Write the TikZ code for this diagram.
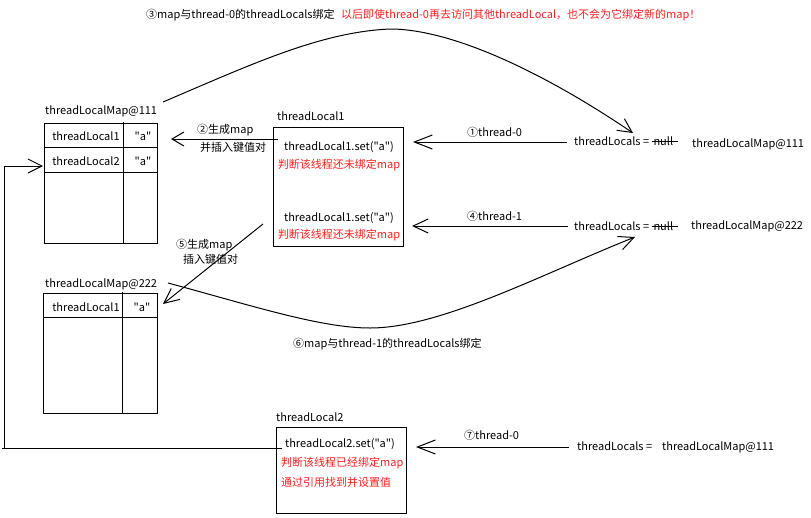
\documentclass[tikz,border=0pt]{standalone}
\usepackage{fontspec}
\setmainfont{Noto Sans CJK SC}[Ligatures=TeXOff]
\usetikzlibrary{arrows.meta}
\definecolor{redtext}{RGB}{255,30,30}
\tikzset{
  lbl/.style={inner sep=0pt, anchor=west, font=\fontsize{11}{13}\selectfont},
  clbl/.style={inner sep=0pt, anchor=center, font=\fontsize{11}{13}\selectfont},
  redtxt/.style={text=redtext},
  ln/.style={line width=1pt, black},
  barbarrow/.style={ln, -{Straight Barb[length=#1, width=14pt]}},
  barbarrow/.default=14pt
}
\begin{document}
\begin{tikzpicture}[x=1pt, y=-1pt]
\useasboundingbox (0,0) rectangle (811,517);

% top texts
\node[lbl] (t3) at (146,15) {③map与thread-0的threadLocals绑定};
\node[lbl, redtxt] (t3r) at (341,15) {以后即使thread-0再去访问其他threadLocal，也不会为它绑定新的map！};

% map 111
\node[lbl] (m1lbl) at (45,111) {threadLocalMap@111};
\draw[ln] (44,123) rectangle (157,243);
\draw[ln] (123,122) -- (123,244);
\draw[ln] (44,147) -- (157,147);
\draw[ln] (44,172) -- (157,172);
\node[clbl] (m1k1) at (86,136) {threadLocal1};
\node[clbl] (m1v1) at (143,136) {"a"};
\node[clbl] (m1k2) at (86,161) {threadLocal2};
\node[clbl] (m1v2) at (143,161) {"a"};
\coordinate (m1in2) at (43,166);
\coordinate (m1in1) at (171,139);
\coordinate (m1top) at (163,102);

% threadLocal1
\node[lbl] (tl1lbl) at (277,116) {threadLocal1};
\draw[ln] (273,127) rectangle (403,246);
\node[clbl] (s1) at (339,147) {threadLocal1.set("a")};
\node[clbl, redtxt] (r1) at (339,165) {判断该线程还未绑定map};
\node[clbl] (s2) at (339,218) {threadLocal1.set("a")};
\node[clbl, redtxt] (r2) at (339,235) {判断该线程还未绑定map};
\coordinate (tl1out) at (278,139);
\coordinate (tl1out2) at (263,224);
\coordinate (tl1inA) at (413,142);
\coordinate (tl1inB) at (412,226);

% step 2
\node[lbl] (l2a) at (197,130) {②生成map};
\node[lbl] (l2b) at (200,147) {并插入键值对};
\draw[barbarrow=12pt] (tl1out) -- (m1in1);

% thread-0 / thread-1
\node[lbl] (l1) at (467,132) {①thread-0};
\node[lbl] (tlsA) at (574,141) {threadLocals =};
\node[inner sep=0pt, anchor=base west, font=\fontsize{11}{13}\selectfont] (nullA) at ([xshift=4pt]tlsA.base east) {null};
\draw[line width=0.8pt] ([xshift=-1pt]nullA.west) -- ([xshift=5pt]nullA.east);
\node[lbl] (mA) at (692,144) {threadLocalMap@111};
\coordinate (thAout) at (567,142);
\draw[barbarrow=18pt] (thAout) -- (tl1inA);

\node[lbl] (l4) at (467,216) {④thread-1};
\node[lbl] (tlsB) at (574,226) {threadLocals =};
\node[inner sep=0pt, anchor=base west, font=\fontsize{11}{13}\selectfont] (nullB) at ([xshift=4pt]tlsB.base east) {null};
\draw[line width=0.8pt] ([xshift=-1pt]nullB.west) -- ([xshift=5pt]nullB.east);
\node[lbl] (mB) at (691,226) {threadLocalMap@222};
\coordinate (thBout) at (568,226);
\draw[barbarrow=15pt] (thBout) -- (tl1inB);

\coordinate (tlsAin) at (633,133);
\coordinate (tlsBin) at (635,237);

% step 3 arc
\draw[barbarrow=14pt] (m1top) .. controls (250,65) and (320,32) .. (390,29)
  .. controls (450,29) and (540,70) .. (tlsAin);

% step 5
\node[lbl] (l5a) at (176,245) {⑤生成map};
\node[lbl] (l5b) at (183,259) {插入键值对};
\coordinate (m2in) at (163,304);
\draw[barbarrow=15pt] (tl1out2) -- (m2in);

% map 222
\node[lbl] (m2lbl) at (45,284) {threadLocalMap@222};
\draw[ln] (43,293) rectangle (157,413);
\draw[ln] (122,292) -- (122,414);
\draw[ln] (43,317) -- (157,317);
\node[clbl] (m2k1) at (86,307) {threadLocal1};
\node[clbl] (m2v1) at (142,307) {"a"};
\coordinate (m2top) at (168,283);

% step 6 arc
\draw[barbarrow=15pt] (m2top) .. controls (250,305) and (320,328) .. (370,328)
  .. controls (440,328) and (540,275) .. (tlsBin);
\node[lbl] (l6) at (293,344) {⑥map与thread-1的threadLocals绑定};

% threadLocal2
\node[lbl] (tl2lbl) at (276,417) {threadLocal2};
\draw[ln] (276,427) rectangle (406,513);
\node[clbl] (s3) at (340,444) {threadLocal2.set("a")};
\node[lbl, redtxt] (r3) at (281,463) {判断该线程已经绑定map};
\node[lbl, redtxt] (r4) at (281,482) {通过引用找到并设置值};
\coordinate (tl2out) at (282,448);
\coordinate (tl2in) at (416,447);

% loop back
\draw[barbarrow=14pt] (tl2out) -- (2,448) (4,448) -- (4,166) -- (m1in2);

% step 7
\node[lbl] (l7) at (464,435) {⑦thread-0};
\node[lbl] (tlsC) at (577,446) {threadLocals =};
\node[lbl] (mC) at (662,447) {threadLocalMap@111};
\coordinate (thCout) at (569,447);
\draw[barbarrow=18pt] (thCout) -- (tl2in);
\end{tikzpicture}
\end{document}
